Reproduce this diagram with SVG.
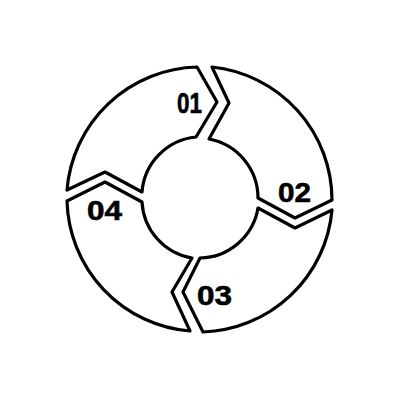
<svg xmlns="http://www.w3.org/2000/svg" width="400" height="400" viewBox="0 0 400 400">
<style>
.seg{fill:#fff;stroke:#000;stroke-width:3.2;stroke-linejoin:round;stroke-linecap:round}
.lbl{font-family:"Liberation Sans",Arial,sans-serif;font-weight:bold;font-size:28px;fill:#000;stroke:#000;stroke-width:0.6}
</style>
<rect width="400" height="400" fill="#fff"/>
<g id="seg01">
<path class="seg" d="M67,190 A134,134 0 0 1 197,67 L217,102 L196,137 A60,60 0 0 0 142,192 L105,172 Z"/>
<text class="lbl" x="177" y="113" style="font-size:29px" textLength="25" lengthAdjust="spacingAndGlyphs">01</text>
</g>
<g id="seg02">
<path class="seg" d="M212,67 A134,134 0 0 1 332,200 L295,218 L258,198 A60,60 0 0 0 209,139 L229,103 Z"/>
<text class="lbl" x="278" y="202" textLength="33" lengthAdjust="spacingAndGlyphs">02</text>
</g>
<g id="seg03">
<path class="seg" d="M332,210 A134,134 0 0 1 203,332 L183,292 L200,258 A60,60 0 0 0 258,208 L295,228 Z"/>
<text class="lbl" x="197" y="305" textLength="35" lengthAdjust="spacingAndGlyphs">03</text>
</g>
<g id="seg04">
<path class="seg" d="M190,331 A134,134 0 0 1 67,201 L105,182 L142,202 A60,60 0 0 0 192,258 L172,292 Z"/>
<text class="lbl" x="87" y="220" textLength="35" lengthAdjust="spacingAndGlyphs">04</text>
</g>
<g id="connectors"></g>
</svg>
